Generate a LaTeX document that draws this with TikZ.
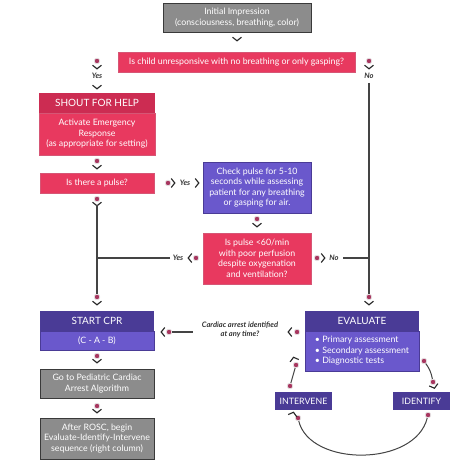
\documentclass[tikz,border=0pt]{standalone}
\usepackage{fontspec}
\setmainfont{Lato}
\definecolor{pinkbody}{HTML}{E8395F}
\definecolor{pinkhead}{HTML}{CC2C52}
\definecolor{purpbody}{HTML}{6A58CC}
\definecolor{purphead}{HTML}{4A3B96}
\definecolor{purpdark}{HTML}{4B3D8F}
\definecolor{graybox}{HTML}{8C8C8C}
\definecolor{grayline}{HTML}{3A3A3A}
\definecolor{dotcol}{HTML}{A8365F}
\definecolor{linecol}{HTML}{444444}
\tikzset{
  box/.style={rectangle, inner sep=1pt, align=center, text=white,
    font=\fontsize{8.8}{10.5}\selectfont},
  pinkb/.style={box, fill=pinkbody, draw=pinkhead!80, line width=0.5pt},
  pinkh/.style={box, fill=pinkhead, font=\fontsize{10}{11}\selectfont},
  purpb/.style={box, fill=purpbody, draw=purphead, line width=0.5pt},
  purph/.style={box, fill=purphead, font=\fontsize{10}{11}\selectfont},
  grayb/.style={box, fill=graybox, draw=grayline, line width=0.9pt},
  dotn/.style={circle, inner sep=0pt, minimum size=5.5pt, fill=dotcol, draw=white!80!gray, line width=0.7pt},
  lab/.style={inner sep=0pt, text=black!80, font=\fontsize{7.5}{8}\selectfont\bfseries\itshape},
  chevline/.style={draw=black!85, line width=1.1pt, line join=miter},
  conn/.style={draw=linecol, line width=1.1pt},
  chevd/.pic={\draw[chevline] (-4.5,-1.8) -- (0,1.8) -- (4.5,-1.8);},
  chevu/.pic={\draw[chevline] (-4.5,1.8) -- (0,-1.8) -- (4.5,1.8);},
  chevr/.pic={\draw[chevline] (-1.8,-4.5) -- (1.8,0) -- (-1.8,4.5);},
  chevl/.pic={\draw[chevline] (1.8,-4.5) -- (-1.8,0) -- (1.8,4.5);},
}
\begin{document}
\begin{tikzpicture}[x=1pt,y=-1pt]
\useasboundingbox[fill=white] (0,0) rectangle (474,462);

% boxes
\node[grayb, minimum width=148pt, minimum height=29pt] (init) at (237,17.5)
  {Initial Impression\\(consciousness, breathing, color)};
\node[pinkb, minimum width=237pt, minimum height=20pt] (q1) at (236.5,62)
  {Is child unresponsive with no breathing or only gasping?};
\node[pinkh, minimum width=116pt, minimum height=20pt] (shouth) at (97,103) {SHOUT FOR HELP};
\node[pinkb, minimum width=116pt, minimum height=42pt] (shoutb) at (97,134)
  {Activate Emergency\\Response\\(as appropriate for setting)};
\node[pinkb, minimum width=114pt, minimum height=20pt] (q2) at (97,183) {Is there a pulse?};
\node[purpb, minimum width=108pt, minimum height=51pt] (check) at (257,187.5)
  {Check pulse for 5-10\\seconds while assessing\\patient for any breathing\\or gasping for air.};
\node[pinkb, minimum width=108pt, minimum height=51pt] (q3) at (257,258.5)
  {Is pulse <60/min\\with poor perfusion\\despite oxygenation\\and ventilation?};
\node[purph, minimum width=114pt, minimum height=20pt] (cprh) at (97,321) {START CPR};
\node[purpb, minimum width=114pt, minimum height=19pt] (cprb) at (97,340.5) {(C - A - B)};
\node[grayb, minimum width=114pt, minimum height=29pt] (goto) at (97,383.5)
  {Go to Pediatric Cardiac\\Arrest Algorithm};
\node[grayb, minimum width=114pt, minimum height=41pt] (rosc) at (97,438.5)
  {After ROSC, begin\\Evaluate-Identify-Intervene\\sequence (right column)};
\node[purph, minimum width=114pt, minimum height=20pt] (evalh) at (362,321) {EVALUATE};
\node[purpb, minimum width=114pt, minimum height=40pt, align=left] (evalb) at (362,351)
  {\textbullet\ Primary assessment\\\textbullet\ Secondary assessment\\\textbullet\ Diagnostic tests};
\node[purph, minimum width=57pt, minimum height=18pt, font=\fontsize{8.8}{10}\selectfont] (interv) at (303.5,401) {INTERVENE};
\node[purph, minimum width=57pt, minimum height=18pt, font=\fontsize{8.8}{10}\selectfont] (ident) at (421.5,401) {IDENTIFY};

% init -> q1
\pic at (237,39) {chevd};

% Yes branch q1 -> shout
\node[dotn] (dy1) at (97,61) {};
\pic at (97,67) {chevd};
\node[lab] (ly1) at (97,76) {Yes};
\pic at (97,87) {chevd};

% No branch q1 -> evaluate
\node[dotn] (dn1) at (369,61) {};
\pic at (369,67) {chevd};
\node[lab] (ln1) at (369,76) {No};
\coordinate (nb) at (369,83);
\node[dotn] (dn2) at (369,297) {};
\draw[conn] (nb) -- (dn2);
\pic at (369,303) {chevd};

% shout -> q2
\node[dotn] (ds) at (97,161) {};
\pic at (97,167) {chevd};

% q2 -> yes -> check
\node[dotn] (dy2) at (168,183) {};
\pic at (173,183) {chevr};
\node[lab] (ly2) at (185,183) {Yes};
\pic at (197,183) {chevr};

% q2 -> down
\node[dotn] (dq2) at (97,199) {};
\pic at (97,204) {chevd};
\coordinate (vtop) at (97,205);
\node[dotn] (dc) at (97,297) {};
\draw[conn] (vtop) -- (dc);
\pic at (97,303) {chevd};

% check -> q3
\node[dotn] (dch) at (257,219) {};
\pic at (257,225) {chevd};

% q3 yes -> left
\node[dotn] (dy3) at (196,258) {};
\pic at (190,258) {chevl};
\node[lab] (ly3) at (178,258) {Yes};
\coordinate (y3a) at (170,258);
\coordinate (y3b) at (97,258);
\draw[conn] (y3a) -- (y3b);

% q3 no -> right
\node[dotn] (dn3) at (317,258) {};
\pic at (323,258) {chevr};
\node[lab] (ln3) at (334,258) {No};
\coordinate (n3a) at (343,258);
\coordinate (n3b) at (369,258);
\draw[conn] (n3a) -- (n3b);

% cpr -> goto -> rosc
\node[dotn] (dg1) at (97,356) {};
\pic at (97,361) {chevd};
\node[dotn] (dg2) at (97,406) {};
\pic at (97,411) {chevd};

% cardiac arrest
\node[lab, align=center, font=\fontsize{7.5}{8.7}\selectfont\bfseries\itshape] (ca) at (240,330)
  {Cardiac arrest identified\\at any time?};
\node[dotn] (dca1) at (169,332) {};
\pic at (163,332) {chevl};
\coordinate (ca1) at (193,332);
\draw[conn] (dca1) -- (ca1);
\node[dotn] (dca2) at (297,332) {};
\pic at (290,332) {chevl};

% cycle
\node[dotn] (de1) at (424,361) {};
\node[dotn] (de2) at (433,382) {};
\draw[conn, line width=1pt] (de1) to[bend left=12] (de2);
\pic[rotate=15] at (434,386.5) {chevd};

\node[dotn] (di1) at (290,386) {};
\node[dotn] (di2) at (296,365) {};
\draw[conn, line width=1pt] (di1) -- (di2);
\pic[rotate=15] at (294,359) {chevu};

\node[dotn] (dd1) at (428,415) {};
\node[dotn] (dd2) at (298,418) {};
\draw[conn, line width=1pt] (dd1) .. controls (415,467) and (310,467) .. (dd2);
\pic[rotate=-15] at (293,414) {chevu};
\end{tikzpicture}
\end{document}
